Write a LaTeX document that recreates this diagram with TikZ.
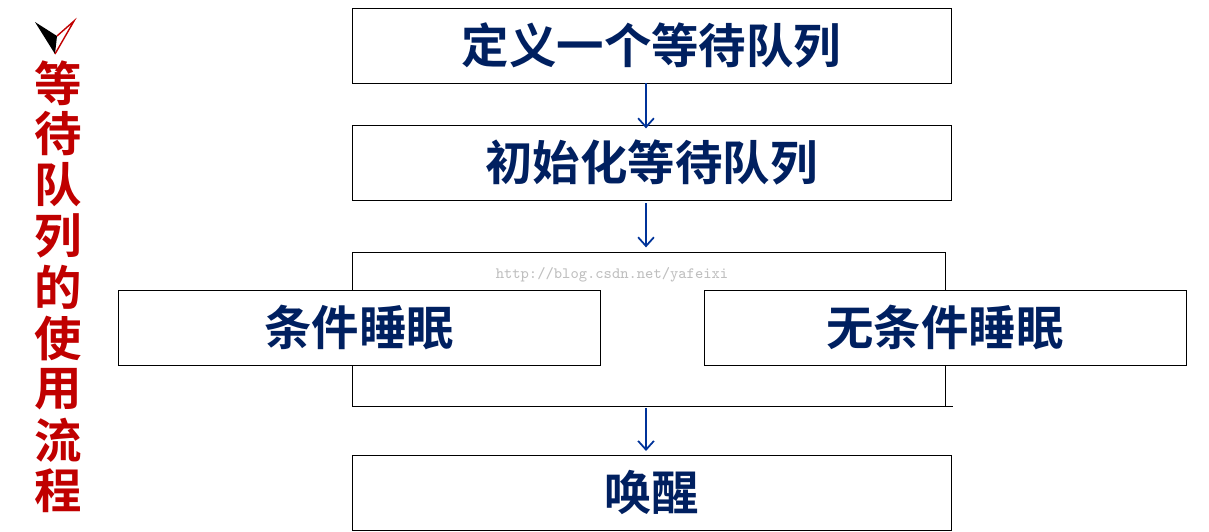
\documentclass[tikz,border=0pt]{standalone}
\usepackage{fontspec}
\usetikzlibrary{arrows.meta}
\newfontfamily\cjk{Noto Sans CJK SC}[BoldFont={Noto Sans CJK SC Bold}]
\definecolor{boxblue}{RGB}{0,32,96}
\definecolor{titlered}{RGB}{192,0,0}
\definecolor{arrowblue}{RGB}{0,51,153}
\tikzset{
  stepbox/.style={draw=black, fill=white, minimum width=599*0.02cm, minimum height=75*0.02cm, inner sep=0pt,
    font=\cjk\bfseries\fontsize{27}{27}\selectfont, text=boxblue},
  sidebox/.style={stepbox, minimum width=482*0.02cm},
  flow/.style={-{Straight Barb[length=5pt,width=9pt]}, draw=arrowblue, line width=1pt}
}
\begin{document}
\begin{tikzpicture}[x=0.02cm, y=-0.02cm]
  \useasboundingbox (0,0) rectangle (1209,531);
  % side title
  \fill[black] (35,22)--(55,54)--(57,36)--cycle;
  \draw[titlered, line width=0.8pt] (57,36)--(74,21)--(55,54);
  \foreach \ch [count=\i] in {等,待,队,列,的,使,用,流,程}
    \node[text=titlered, font=\cjk\bfseries\fontsize{27}{27}\selectfont] (t\i) at (58,32+51*\i) {\ch};
  % frame behind the two side boxes
  \draw (352,290)--(352,252)--(945,252)--(945,290);
  \draw (352,365)--(352,406)--(953,406);
  \draw (945,365)--(945,406);
  \node[text=black!25, font=\ttfamily\fontsize{9}{9}\selectfont] (mark) at (612,275) {http://blog.csdn.net/yafeixi};
  % boxes
  \node[stepbox] (define) at (651.5,45.5) {定义一个等待队列};
  \node[stepbox] (init) at (651.5,162.5) {初始化等待队列};
  \node[sidebox] (cond) at (359,327.5) {条件睡眠};
  \node[sidebox] (uncond) at (945,327.5) {无条件睡眠};
  \node[stepbox] (wake) at (651.5,492.5) {唤醒};
  \coordinate (frametop) at (646,252);
  \coordinate (framebot) at (646,406);
  % arrows
  \draw[flow] (define.south -| frametop) -- ++(0,45);
  \draw[flow] ([yshift=-3*0.02cm]init.south -| frametop) -- ++(0,44);
  \draw[flow] ([yshift=-2*0.02cm]framebot) -- ++(0,43);
\end{tikzpicture}
\end{document}
